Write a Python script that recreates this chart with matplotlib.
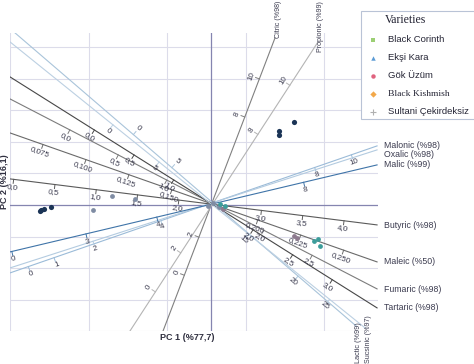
import numpy as np
import matplotlib
matplotlib.use("Agg")
import matplotlib.pyplot as plt
from matplotlib.lines import Line2D
from matplotlib.patches import Rectangle

# ---------------- data ----------------
variables = ['Citric (%98)', 'Propionic (%99)', 'Malonic (%98)', 'Oxalic (%98)',
             'Malic (%99)', 'Butyric (%98)', 'Maleic (%50)', 'Fumaric (%98)',
             'Tartaric (%98)', 'Lactic (%99)', 'Sucsinic (%97)']
# calibrated axis end points (label end) and opposite end, PC1/PC2 units
end_x = [0.815, 1.363, 2.115, 2.115, 2.115, 2.115, 2.115, 2.115, 2.115, 1.847, 1.962]
end_y = [5.285, 5.158, 1.867, 1.741, 1.266, -0.633, -1.804, -2.658, -3.259, -3.829, -3.892]
start_x = [-0.611, -1.032, -2.561, -2.561, -2.561, -2.561, -2.561, -2.561, -2.561, -2.497, -2.561]
start_y = [-3.987, -3.987, -2.152, -1.994, -1.487, 0.823, 2.278, 3.354, 4.051, 5.443, 5.158]
line_colors = ['#808080', '#b4b4b4', '#9bbbd8', '#b3cbe0', '#3f74a8', '#5a5a5a',
               '#6a6a6a', '#7c7c7c', '#474747', '#a9c4da', '#bcd0e2']

# tick marks along each calibrated axis: (fraction along axis, label, side)
ticks = {
    'Citric (%98)': [(0.19, '0', -1), (0.32, '2', -1), (0.73, '8', -1), (0.86, '10', -1)],
    'Propionic (%99)': [(0.135, '0', -1), (0.27, '2', -1), (0.68, '8', -1), (0.85, '10', -1)],
    'Malonic (%98)': [(0.05, '0', 1), (0.12, '1', 1), (0.83, '8', 1), (0.93, '10', 1)],
    'Oxalic (%98)': [(0.226, '2', 1), (0.41, '4', 1)],
    'Malic (%99)': [(0.005, '0', 1), (0.207, '3', 1), (0.40, '4', 1), (0.80, '8', 1)],
    'Butyric (%98)': [(0.01, '0,0', 1), (0.1225, '0,5', 1), (0.235, '1,0', 1), (0.3475, '1,5', 1),
                      (0.46, '2,0', 1), (0.685, '3,0', 1), (0.7975, '3,5', 1), (0.91, '4,0', 1)],
    'Maleic (%50)': [(0.09, '0,075', 1), (0.207, '0,100', 1), (0.324, '0,125', 1), (0.441, '0,150', 1),
                     (0.675, '0,200', 1), (0.792, '0,225', 1), (0.909, '0,250', 1)],
    'Fumaric (%98)': [(0.163, '0,0', 1), (0.295, '0,5', 1), (0.427, '1,0', 1), (0.691, '2,0', 1),
                      (0.823, '2,5', 1)],
    'Tartaric (%98)': [(0.23, '0,0', 1), (0.338, '0,5', 1), (0.446, '1,0', 1), (0.662, '2,0', 1),
                       (0.77, '2,5', 1), (0.878, '3,0', 1)],
    'Lactic (%99)': [(0.347, '0', -1), (0.46, '5', -1), (0.686, '15', 1), (0.83, '20', 1)],
    'Sucsinic (%97)': [(0.29, '0', 1), (0.42, '5', 1), (0.90, '25', 1)],
}

# observations (PC1, PC2)
obs_navy_x = [-2.18, -2.16, -2.13, -2.04, 0.86, 0.87, 1.06]
obs_navy_y = [-0.19, -0.16, -0.13, -0.06, 2.34, 2.22, 2.63]
obs_grey_x = [-1.50, -1.26, -0.97, 0.03, 0.10, -0.04]
obs_grey_y = [-0.16, 0.28, 0.19, 0.05, -0.08, -0.02]
obs_teal_x = [1.31, 1.36, 1.39, 0.12, 0.18]
obs_teal_y = [-1.14, -1.08, -1.30, 0.02, -0.05]
obs_mauve_x = [1.06, 1.10, 0.15]
obs_mauve_y = [-0.98, -1.04, -0.12]

varieties = ['Black Corinth', 'Ekşi Kara', 'Gök Üzüm', 'Black Kishmish', 'Sultani Çekirdeksiz']
variety_markers = ['s', '^', 'o', 'D', '+']
variety_colors = ['#9ccf74', '#5b9bd5', '#e0637f', '#f2a84a', '#b0b0b0']

x_grid = [-2.56, -1.56, -0.56, 0.44, 1.44]
y_grid = [-4, -3, -2, -1, 1, 2, 3, 4, 5]

# ---------------- figure ----------------
W, H = 474, 364
fig = plt.figure(figsize=(W / 100, H / 100), dpi=100)
plt.rcParams['font.family'] = ['Liberation Sans', 'DejaVu Sans']
ax = fig.add_axes([10 / W, 1 - 331 / H, (378 - 10) / W, (331 - 33) / H])
ax.set_xlim(-2.561, 2.127)
ax.set_ylim(-3.99, 5.44)
ax.axis('off')

for gx in x_grid:
    ax.plot([gx, gx], [-3.99, 5.44], color='#dcdcea', lw=0.8, zorder=0)
for gy in y_grid:
    ax.plot([-2.561, 2.115], [gy, gy], color='#dcdcea', lw=0.8, zorder=0)
ax.plot([0, 0], [-3.99, 5.44], color='#8585b0', lw=0.9, zorder=1)
ax.plot([-2.561, 2.115], [0, 0], color='#8585b0', lw=0.9, zorder=1)

fig.canvas.draw()
renderer = fig.canvas.get_renderer()
to_disp = ax.transData.transform
to_data = ax.transData.inverted().transform

for i, name in enumerate(variables):
    xs = [start_x[i], end_x[i]]
    ys = [start_y[i], end_y[i]]
    ax.plot(xs, ys, color=line_colors[i], lw=0.8, zorder=2)
    pa = to_disp((start_x[i], start_y[i]))
    pb = to_disp((end_x[i], end_y[i]))
    u = (pb - pa) / np.hypot(*(pb - pa))
    n = np.array([u[1], -u[0]])
    ang = np.degrees(np.arctan2(u[1], u[0]))
    if ang > 90:
        ang -= 180
    if ang < -90:
        ang += 180
    for t, lab, side in ticks[name]:
        p = pa + t * (pb - pa)
        q = p + side * n * 4
        d1 = to_data(p)
        d2 = to_data(q)
        ax.plot([d1[0], d2[0]], [d1[1], d2[1]], color=line_colors[i], lw=0.7, zorder=2)
        lp = to_data(p + side * n * 8)
        ax.text(lp[0], lp[1], lab, fontsize=5.8, color='#3a3a4e', rotation=ang,
                rotation_mode='anchor', ha='center', va='center', zorder=3)

# horizontal variable names (right side)
for name, px, py in [('Malonic (%98)', 384, 146), ('Oxalic (%98)', 384, 154),
                     ('Malic (%99)', 384, 165), ('Butyric (%98)', 384, 226),
                     ('Maleic (%50)', 384, 261), ('Fumaric (%98)', 384, 289),
                     ('Tartaric (%98)', 384, 308)]:
    fig.text(px / W, 1 - py / H, name, ha='left', va='center',
             fontsize=6.3, color='#3c3c50')

# vertical variable names: fit between line end and figure edge
for name, px, y_from, y_to in [('Citric (%98)', 278, 39, 1),
                               ('Propionic (%99)', 320, 52, 1),
                               ('Lactic (%99)', 359, 322, 363),
                               ('Sucsinic (%97)', 368, 315, 363)]:
    avail = abs(y_from - y_to)
    fs = 6.2
    while True:
        tx = fig.text(px / W, 1 - y_to / H, name, rotation=90, ha='center',
                      va='top' if y_to < y_from else 'bottom', fontsize=fs, color='#3c3c50')
        ext = tx.get_window_extent(renderer)
        if ext.height <= avail or fs < 4.5:
            break
        tx.remove()
        fs -= 0.1

# observations
ax.scatter(obs_grey_x, obs_grey_y, s=12, color='#7f8ca3', zorder=4, linewidths=0)
ax.scatter(obs_mauve_x, obs_mauve_y, s=12, color='#8d7a8e', zorder=4, linewidths=0)
ax.scatter(obs_teal_x, obs_teal_y, s=12, color='#3c9d9b', zorder=4, linewidths=0)
ax.scatter(obs_navy_x, obs_navy_y, s=14, color='#1b3456', zorder=5, linewidths=0)

# axis titles
fig.text(214 / W, 1 - 337 / H, 'PC 1 (%77,7)', ha='right', va='center',
         fontsize=6.5, fontweight='bold', color='#303040')
fig.text(5 / W, 1 - 182 / H, 'PC 2 (%16,1)', ha='center', va='center', rotation=90,
         fontsize=6.5, fontweight='bold', color='#303040')

# legend box
fig.patches.append(Rectangle((361 / W, 1 - 119 / H), 120 / W, 108 / H,
                             transform=fig.transFigure, facecolor='white',
                             edgecolor='#b9c3d6', lw=0.8, zorder=10))
fig.text(405 / W, 1 - 20 / H, 'Varieties', ha='center', va='center', fontsize=8.5,
         family='Liberation Serif', color='#202030', zorder=11)
ys_leg = [40, 58, 76, 94, 112]
for lab, mk, col, py in zip(varieties, variety_markers, variety_colors, ys_leg):
    fig.lines.append(Line2D([373 / W], [1 - py / H], marker=mk, color=col,
                            markersize=3.2 if mk != '+' else 4, lw=0,
                            markeredgewidth=0.8 if mk == '+' else 0,
                            transform=fig.transFigure, zorder=11))
    fam = 'Liberation Serif' if lab == 'Black Kishmish' else 'Liberation Sans'
    fig.text(388 / W, 1 - py / H, lab, ha='left', va='center', fontsize=6.8,
             family=fam, color='#252535', zorder=11)

fig.savefig('out.png', dpi=100)
